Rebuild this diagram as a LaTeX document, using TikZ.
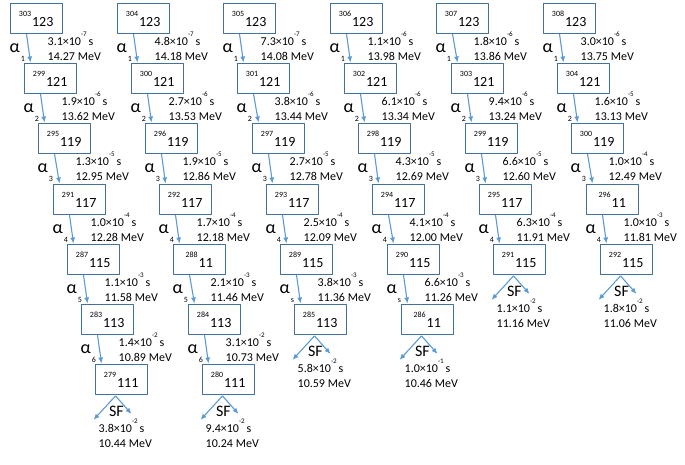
\documentclass[tikz,border=0pt]{standalone}
\usepackage{fontspec}
\setmainfont{Carlito}
\usetikzlibrary{arrows.meta}
\definecolor{boxblue}{RGB}{65,113,156}
\definecolor{arrblue}{RGB}{91,155,213}
\tikzset{
	nucl/.style={draw=boxblue, line width=1.4pt, minimum width=52pt, minimum height=30pt, inner sep=0pt, anchor=north west, text height=16pt, text depth=0pt, font=\fontsize{14}{14}\selectfont},
	decay/.style={arrblue, line width=1.1pt, -{Latex[length=6pt,width=5pt]}},
	alab/.style={anchor=base west, inner sep=0pt, font=\fontsize{18}{18}\selectfont},
	tlab/.style={anchor=north west, inner sep=0pt, align=left, font=\fontsize{12}{15}\selectfont},
	sflab/.style={inner sep=0pt, font=\fontsize{16}{16}\selectfont}
}
\newcommand{\htime}[3]{#1×10\raisebox{9pt}{\fontsize{7}{7}\selectfont #2}\,s\\#3 MeV}
\newcommand{\nuc}[5]{\node[nucl] (#1) at ({round(9+106.6*#2+14.2*#3)+0.5},{round(2+60.2*#3)+0.5}) {\raisebox{10pt}{\fontsize{8}{8}\selectfont #4}\kern1pt #5};}
\newcommand{\adecay}[6]{%
	\draw[decay] ([xshift=17pt]#1.south west) -- ([xshift=7pt]#2.north west);
	\node[alab] (a#1) at ([yshift=-19pt]#1.south west) {α\kern1pt\raisebox{-9pt}{\fontsize{8}{8}\selectfont #3}};
	\node[tlab] (t#1) at ([xshift=38pt,yshift=2pt]#1.south west) {\htime{#4}{#5}{#6}};}
\newcommand{\sfdecay}[4]{%
	\coordinate (sfa#1) at ([xshift=21pt,yshift=-1pt]#1.south west);
	\coordinate (sfl#1) at ([xshift=-1pt,yshift=-25pt]#1.south west);
	\coordinate (sfr#1) at ([xshift=37pt,yshift=-19pt]#1.south west);
	\draw[decay] (sfa#1) -- (sfl#1);
	\draw[decay] (sfa#1) -- (sfr#1);
	\node[sflab] (sf#1) at ([xshift=22pt,yshift=-16pt]#1.south west) {SF};
	\node[tlab] (t#1) at ([xshift=4pt,yshift=-24pt]#1.south west) {\htime{#2}{#3}{#4}};}
\begin{document}
\begin{tikzpicture}[x=1pt, y=-1pt, line join=round]
	\useasboundingbox (0,0) rectangle (685,464);
	\nuc{A303}{0}{0}{303}{123}
	\nuc{A299}{0}{1}{299}{121}
	\nuc{A295}{0}{2}{295}{119}
	\nuc{A291}{0}{3}{291}{117}
	\nuc{A287}{0}{4}{287}{115}
	\nuc{A283}{0}{5}{283}{113}
	\nuc{A279}{0}{6}{279}{111}
	\adecay{A303}{A299}{1}{3.1}{-7}{14.27}
	\adecay{A299}{A295}{2}{1.9}{-6}{13.62}
	\adecay{A295}{A291}{3}{1.3}{-5}{12.95}
	\adecay{A291}{A287}{4}{1.0}{-4}{12.28}
	\adecay{A287}{A283}{5}{1.1}{-3}{11.58}
	\adecay{A283}{A279}{6}{1.4}{-2}{10.89}
	\sfdecay{A279}{3.8}{-2}{10.44}

	\nuc{B304}{1}{0}{304}{123}
	\nuc{B300}{1}{1}{300}{121}
	\nuc{B296}{1}{2}{296}{119}
	\nuc{B292}{1}{3}{292}{117}
	\nuc{B288}{1}{4}{288}{11}
	\nuc{B284}{1}{5}{284}{113}
	\nuc{B280}{1}{6}{280}{111}
	\adecay{B304}{B300}{1}{4.8}{-7}{14.18}
	\adecay{B300}{B296}{2}{2.7}{-6}{13.53}
	\adecay{B296}{B292}{3}{1.9}{-5}{12.86}
	\adecay{B292}{B288}{4}{1.7}{-4}{12.18}
	\adecay{B288}{B284}{5}{2.1}{-3}{11.46}
	\adecay{B284}{B280}{6}{3.1}{-2}{10.73}
	\sfdecay{B280}{9.4}{-2}{10.24}

	\nuc{C305}{2}{0}{305}{123}
	\nuc{C301}{2}{1}{301}{121}
	\nuc{C297}{2}{2}{297}{119}
	\nuc{C293}{2}{3}{293}{117}
	\nuc{C289}{2}{4}{289}{115}
	\nuc{C285}{2}{5}{285}{113}
	\adecay{C305}{C301}{1}{7.3}{-7}{14.08}
	\adecay{C301}{C297}{2}{3.8}{-6}{13.44}
	\adecay{C297}{C293}{3}{2.7}{-5}{12.78}
	\adecay{C293}{C289}{4}{2.5}{-4}{12.09}
	\adecay{C289}{C285}{s}{3.8}{-3}{11.36}
	\sfdecay{C285}{5.8}{-2}{10.59}

	\nuc{D306}{3}{0}{306}{123}
	\nuc{D302}{3}{1}{302}{121}
	\nuc{D298}{3}{2}{298}{119}
	\nuc{D294}{3}{3}{294}{117}
	\nuc{D290}{3}{4}{290}{115}
	\nuc{D286}{3}{5}{286}{11}
	\adecay{D306}{D302}{1}{1.1}{-6}{13.98}
	\adecay{D302}{D298}{2}{6.1}{-6}{13.34}
	\adecay{D298}{D294}{3}{4.3}{-5}{12.69}
	\adecay{D294}{D290}{4}{4.1}{-4}{12.00}
	\adecay{D290}{D286}{s}{6.6}{-3}{11.26}
	\sfdecay{D286}{1.0}{-1}{10.46}

	\nuc{E307}{4}{0}{307}{123}
	\nuc{E303}{4}{1}{303}{121}
	\nuc{E299}{4}{2}{299}{119}
	\nuc{E295}{4}{3}{295}{117}
	\nuc{E291}{4}{4}{291}{115}
	\adecay{E307}{E303}{1}{1.8}{-6}{13.86}
	\adecay{E303}{E299}{2}{9.4}{-6}{13.24}
	\adecay{E299}{E295}{3}{6.6}{-5}{12.60}
	\adecay{E295}{E291}{4}{6.3}{-4}{11.91}
	\sfdecay{E291}{1.1}{-2}{11.16}

	\nuc{F308}{5}{0}{308}{123}
	\nuc{F304}{5}{1}{304}{121}
	\nuc{F300}{5}{2}{300}{119}
	\nuc{F296}{5}{3}{296}{11}
	\nuc{F292}{5}{4}{292}{115}
	\adecay{F308}{F304}{1}{3.0}{-6}{13.75}
	\adecay{F304}{F300}{2}{1.6}{-5}{13.13}
	\adecay{F300}{F296}{3}{1.0}{-4}{12.49}
	\adecay{F296}{F292}{4}{1.0}{-3}{11.81}
	\sfdecay{F292}{1.8}{-2}{11.06}
\end{tikzpicture}
\end{document}
